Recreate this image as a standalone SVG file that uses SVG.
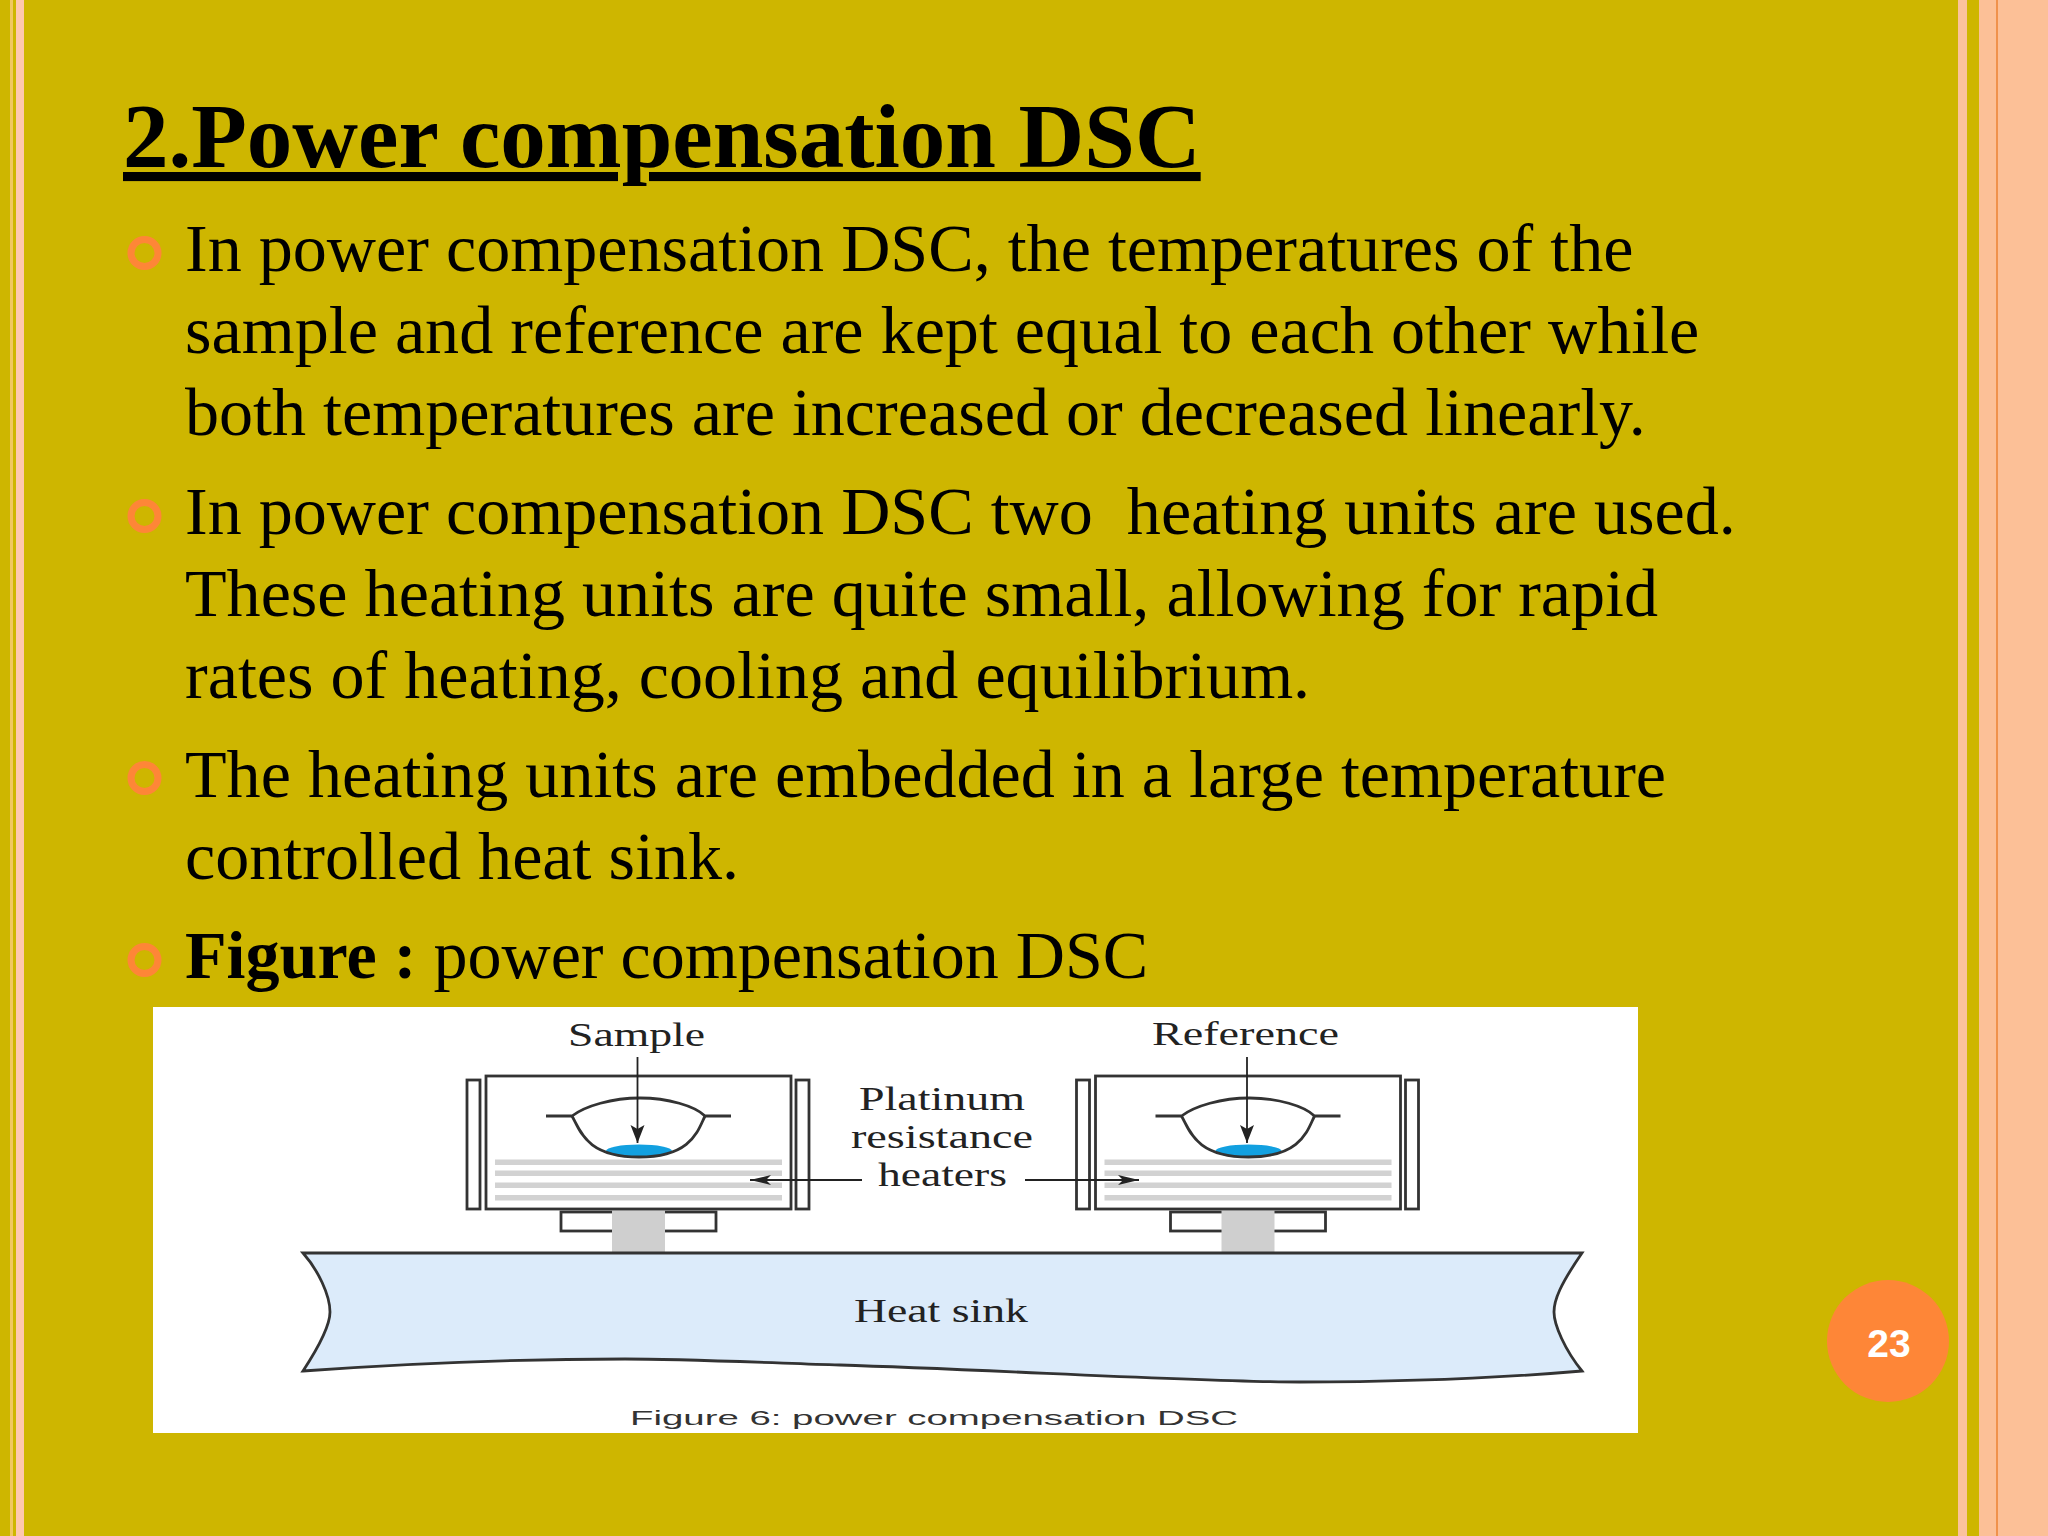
<svg xmlns="http://www.w3.org/2000/svg" width="2048" height="1536" viewBox="0 0 2048 1536">
<style>
.body{font-family:"Liberation Serif","Times New Roman",serif;font-size:68.1px;fill:#000}
.fig{font-family:"Liberation Serif","Times New Roman",serif;font-size:33px;fill:#222}
.cap{font-family:"Liberation Sans",Arial,sans-serif;font-size:20px;fill:#333;font-weight:500}
.bul{fill:none;stroke:#fe8637;stroke-width:7}
.ln{fill:none;stroke:#333;stroke-width:2.800}
.thin{fill:none;stroke:#222;stroke-width:1.800}
.hb{fill:#d2d2d2}
.col{fill:#cfcfcf}
.liq{fill:#12a0e0}
</style>
<defs>
<marker id="headV" markerUnits="userSpaceOnUse" markerWidth="20" markerHeight="16" refX="18" refY="8" orient="auto"><path d="M0,1 L18,8 L0,15 L4,8 Z" fill="#222"/></marker>
<marker id="headH" markerUnits="userSpaceOnUse" markerWidth="22" markerHeight="12" refX="21" refY="6" orient="auto"><path d="M0,1 L21,6 L0,11 L5,6 Z" fill="#222"/></marker>
<g id="cell">
<rect class="ln" x="467" y="1080" width="13" height="129"/>
<rect class="ln" x="796" y="1080" width="13" height="129"/>
<rect class="ln" x="561" y="1212" width="155" height="19"/>
<rect class="col" x="612" y="1210" width="53" height="42"/>
<rect class="hb" x="495" y="1159.500" width="287" height="5.500"/>
<rect class="hb" x="495" y="1170.500" width="287" height="5.500"/>
<rect class="hb" x="495" y="1182.500" width="287" height="5.500"/>
<rect class="hb" x="495" y="1195" width="287" height="5.500"/>
<rect class="ln" x="486" y="1076" width="305" height="133"/>
<ellipse class="liq" cx="639" cy="1151" rx="33" ry="6.500"/>
<path class="ln" d="M546,1116 H572 C585,1106 612,1098 640,1098 C668,1098 695,1106 705,1116 H731"/>
<path class="ln" d="M572,1116 C580,1130 586,1157 639,1157 C692,1157 698,1130 705,1116"/>
</g>
</defs>
<g id="background">
<rect width="2048" height="1536" fill="#ceb600"/>
<rect x="10" width="3" height="1536" fill="#f0c860"/>
<rect x="16" width="8" height="1536" fill="#fec8ae"/>
<rect x="1958" width="9" height="1536" fill="#fbc29c"/>
<rect x="1979" width="69" height="1536" fill="#fcc097"/>
<rect x="1996" width="2" height="1536" fill="#f0924c"/>
</g>
<g id="title"><text x="123" y="167" font-family="'Liberation Serif','Times New Roman',serif" font-size="91" font-weight="bold" text-decoration="underline">2.Power compensation DSC</text></g>
<g id="bullets">
<circle class="bul" cx="144.500" cy="253" r="13.500"/>
<circle class="bul" cx="144.500" cy="516" r="13.500"/>
<circle class="bul" cx="144.500" cy="778" r="13.500"/>
<circle class="bul" cx="144.500" cy="960" r="13.500"/>
</g>
<g id="content">
<text class="body" x="185" y="271">In power compensation DSC, the temperatures of the</text>
<text class="body" x="185" y="353">sample and reference are kept equal to each other while</text>
<text class="body" x="185" y="435">both temperatures are increased or decreased linearly.</text>
<text class="body" x="185" y="534" xml:space="preserve">In power compensation DSC two  heating units are used.</text>
<text class="body" x="185" y="616">These heating units are quite small, allowing for rapid</text>
<text class="body" x="185" y="698">rates of heating, cooling and equilibrium.</text>
<text class="body" x="185" y="797">The heating units are embedded in a large temperature</text>
<text class="body" x="185" y="879">controlled heat sink.</text>
<text class="body" x="185" y="978"><tspan font-weight="bold">Figure : </tspan>power compensation DSC</text>
</g>
<g id="figure">
<rect x="153" y="1007" width="1485" height="426" fill="#fff"/>
<g id="sample-cell"><use href="#cell"/></g>
<g id="reference-cell"><use href="#cell" x="609.500"/></g>
<g id="heat-sink">
<path d="M303,1253 H1582 C1560,1285 1554,1300 1554,1312 C1554,1325 1565,1350 1582,1371 C1500,1378 1400,1382 1300,1382 C1200,1382 1000,1370 840,1365 C750,1362 680,1359 625,1359 C520,1359 400,1364 303,1371 C320,1345 330,1325 330,1312 C330,1295 318,1270 303,1253 Z" fill="#dcebfa" stroke="#333" stroke-width="2.800"/>
</g>
<g id="connectors">
<path class="thin" d="M637.500,1057 V1143" marker-end="url(#headV)"/>
<path class="thin" d="M1247,1057 V1143" marker-end="url(#headV)"/>
<path class="thin" d="M862,1180 H750" marker-end="url(#headH)"/>
<path class="thin" d="M1025,1180 H1139" marker-end="url(#headH)"/>
</g>
<g id="figure-labels">
<text class="fig" x="568" y="1046" textLength="137" lengthAdjust="spacingAndGlyphs">Sample</text>
<text class="fig" x="1152" y="1045" textLength="187" lengthAdjust="spacingAndGlyphs">Reference</text>
<text class="fig" x="859" y="1110" textLength="166" lengthAdjust="spacingAndGlyphs">Platinum</text>
<text class="fig" x="851" y="1148" textLength="182" lengthAdjust="spacingAndGlyphs">resistance</text>
<text class="fig" x="878" y="1186" textLength="129" lengthAdjust="spacingAndGlyphs">heaters</text>
<text class="fig" x="854" y="1322" textLength="174" lengthAdjust="spacingAndGlyphs">Heat sink</text>
<text class="cap" x="630" y="1424.500" textLength="608" lengthAdjust="spacingAndGlyphs">Figure 6: power compensation DSC</text>
</g>
</g>
<g id="page-number">
<circle cx="1888" cy="1341" r="61" fill="#fe8637"/>
<text x="1889" y="1357" text-anchor="middle" font-family="'Liberation Sans',Arial,sans-serif" font-size="39" font-weight="bold" fill="#fff">23</text>
</g>
</svg>
